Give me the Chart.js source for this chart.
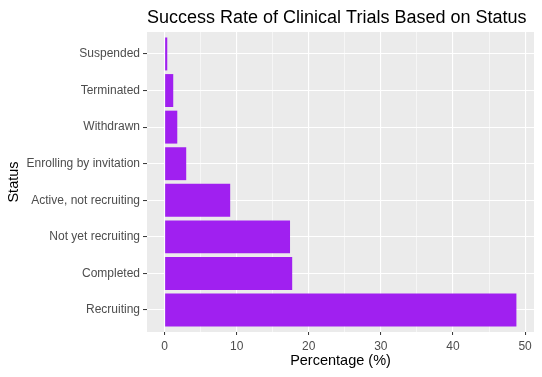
<!DOCTYPE html>
<html>
<head>
<meta charset="utf-8">
<script src="https://cdn.jsdelivr.net/npm/chart.js@4"></script>
<style>
  body { margin: 0; background: #fff; }
  canvas { display: block; }
</style>
</head>
<body>
<canvas id="chart" width="542" height="377"></canvas>
<script>
// bottom to top
const statuses = ['Recruiting', 'Completed', 'Not yet recruiting', 'Active, not recruiting',
  'Enrolling by invitation', 'Withdrawn', 'Terminated', 'Suspended'];
const percentages = [48.8, 17.7, 17.4, 9.1, 3.0, 1.76, 1.2, 0.37];
const xTicks = [0, 5, 10, 15, 20, 25, 30, 35, 40, 45, 50];

const FONT = "'Liberation Sans', Arial, sans-serif";

const panelBg = {
  id: 'panelBg',
  beforeDraw(chart) {
    const { ctx, chartArea: a } = chart;
    ctx.save();
    ctx.fillStyle = '#ffffff';
    ctx.fillRect(0, 0, chart.width, chart.height);
    ctx.fillStyle = '#EBEBEB';
    ctx.fillRect(a.left, a.top, a.right - a.left, a.bottom - a.top);
    ctx.restore();
  },
  afterDraw(chart) {
    const { ctx, chartArea: a } = chart;
    ctx.save();
    ctx.fillStyle = '#000';
    ctx.font = '18px ' + FONT;
    ctx.textBaseline = 'alphabetic';
    ctx.textAlign = 'left';
    ctx.fillText('Success Rate of Clinical Trials Based on Status', a.left, 22.5);
    ctx.restore();
  }
};

new Chart(document.getElementById('chart'), {
  type: 'bar',
  data: {
    datasets: [{
      data: percentages.map((v, i) => ({ x: v, y: i + 1 })),
      backgroundColor: '#A020F0',
      barPercentage: 0.9,
      categoryPercentage: 1
    }]
  },
  options: {
    indexAxis: 'y',
    responsive: false,
    animation: false,
    layout: { padding: { top: 32, right: 8, left: 0, bottom: 0 } },
    plugins: { legend: { display: false }, tooltip: { enabled: false } },
    scales: {
      x: {
        type: 'linear',
        min: -2.44,
        max: 51.24,
        afterBuildTicks: s => { s.ticks = xTicks.map(v => ({ value: v })); },
        afterFit: s => { s.height = 45; },
        border: { display: false },
        grid: {
          color: '#ffffff',
          lineWidth: c => (c.tick && c.tick.value % 10 === 0) ? 1.1 : 0.55,
          tickColor: c => (c.tick && c.tick.value % 10 === 0) ? '#333333' : 'rgba(0,0,0,0)',
          tickLength: 3,
          tickWidth: 1
        },
        ticks: {
          autoSkip: false,
          maxRotation: 0,
          padding: 4,
          color: '#4D4D4D',
          font: { family: FONT, size: 12 },
          callback: v => (v % 10 === 0 ? String(v) : '')
        },
        title: {
          display: true,
          text: 'Percentage (%)',
          color: '#000',
          font: { family: FONT, size: 14.5 },
          padding: { top: 0, bottom: 7 }
        }
      },
      y: {
        type: 'linear',
        min: 0.4,
        max: 8.6,
        offset: false,
        afterBuildTicks: s => { s.ticks = statuses.map((_, i) => ({ value: i + 1 })); },
        afterFit: s => { s.width = 147; },
        border: { display: false },
        grid: {
          offset: false,
          color: '#ffffff',
          lineWidth: 1.1,
          tickColor: '#333333',
          tickLength: 4,
          tickWidth: 1
        },
        ticks: {
          autoSkip: false,
          padding: 3,
          color: '#4D4D4D',
          font: { family: FONT, size: 12 },
          callback: v => statuses[v - 1]
        },
        title: {
          display: true,
          text: 'Status',
          color: '#000',
          font: { family: FONT, size: 14.5 },
          padding: { top: 5, bottom: 0 }
        }
      }
    }
  },
  plugins: [panelBg]
});
</script>
</body>
</html>
